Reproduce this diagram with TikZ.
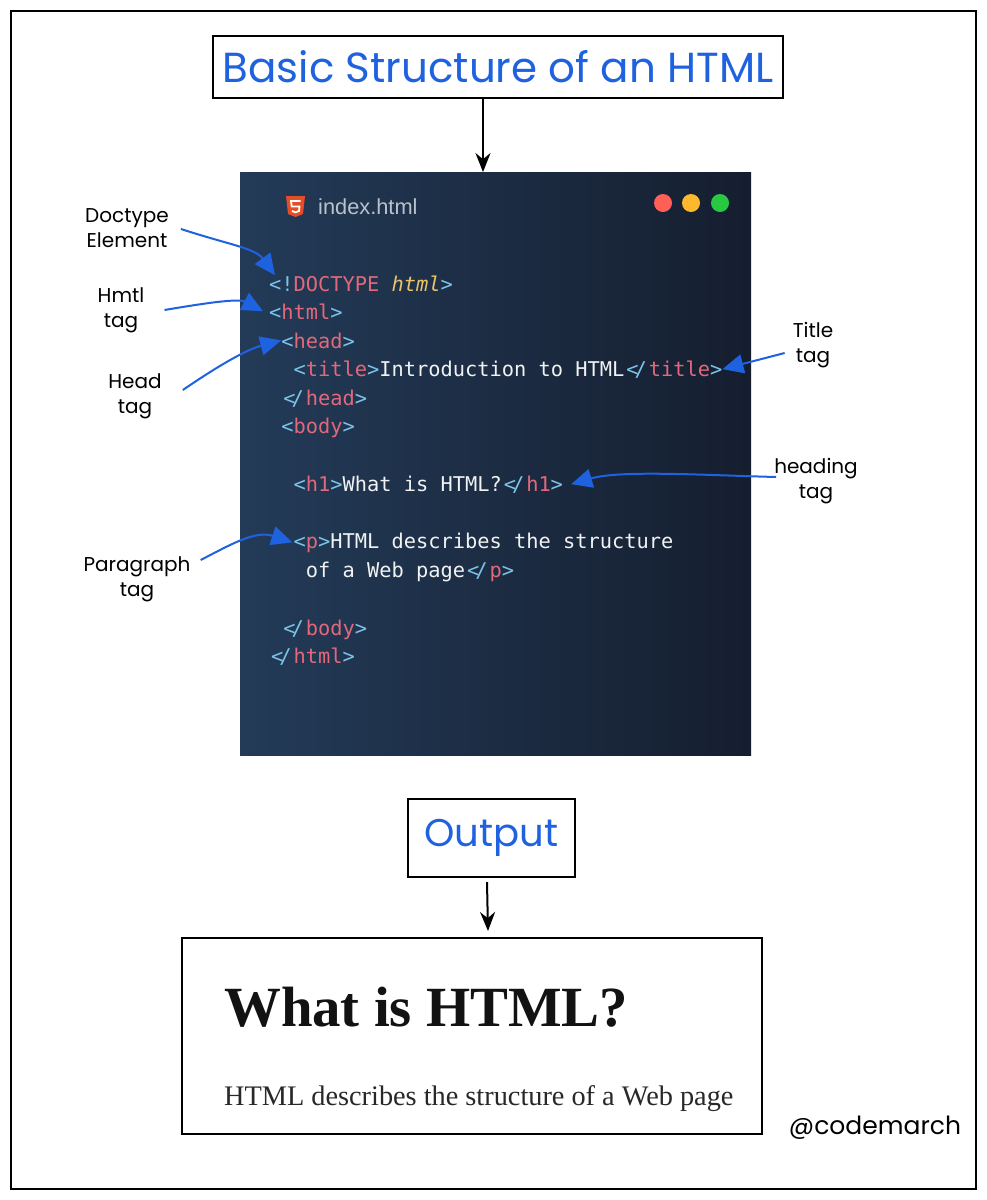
\documentclass[tikz,border=0pt]{standalone}
\usepackage{fontspec}
\usepackage{xcolor}
\usetikzlibrary{arrows.meta}
\setmainfont{Liberation Serif}
\newfontfamily\handf{Poppins}
\newfontfamily\monof{DejaVu Sans Mono}
\newfontfamily\uif{Liberation Sans}
\definecolor{inkblue}{HTML}{1F62E0}
\definecolor{brk}{HTML}{7CC4EA}
\definecolor{tagc}{HTML}{E2687C}
\definecolor{wht}{HTML}{F0F2F4}
\definecolor{ylw}{HTML}{E9C46A}
\newcommand{\hs}[1]{\fontsize{#1}{#1}\selectfont}
\newlength{\cw}\setlength{\cw}{12.22pt}
\newcommand{\ob}{\makebox[\cw][c]{\textcolor{brk}{<}}}
\newcommand{\cb}{\makebox[\cw][c]{\textcolor{brk}{>}}}
\newcommand{\cl}{\makebox[2\cw][c]{\textcolor{brk}{<\kern-.2em/}}}
\newcommand{\tg}[1]{\textcolor{tagc}{#1}}
\newcommand{\wt}[1]{\textcolor{wht}{#1}}
\tikzset{
  outline/.style={draw=black,line width=2pt,fill=white},
  codeline/.style={anchor=base west,inner sep=0pt,font=\monof\hs{20.35}},
  hand/.style={align=center,inner sep=0pt,font=\handf\fontsize{20}{25}\selectfont,text=black},
  flow/.style={-{Stealth[length=19pt,width=15pt]},line width=2pt,black},
  note/.style={-{Triangle[length=21pt,width=19pt]},line width=2pt,inkblue},
  dot/.style={circle,inner sep=0pt,minimum size=18pt}
}
\begin{document}
\begin{tikzpicture}[x=1pt,y=-1pt]
\useasboundingbox (0,0) rectangle (987,1200);
\fill[white] (0,0) rectangle (987,1200);
\node[draw=black,line width=2pt,minimum width=965pt,minimum height=1178pt,inner sep=0pt] (frame) at (493.5,600) {};
\node[outline,minimum width=570pt,minimum height=62pt,inner sep=0pt,text=inkblue,font=\handf\hs{42}] (titlebox) at (498,67) {Basic Structure of an HTML};
\node[minimum width=511pt,minimum height=583.5pt,inner sep=0pt,left color={rgb,255:red,35;green,59;blue,88},right color={rgb,255:red,21;green,30;blue,47},middle color={rgb,255:red,28;green,44;blue,67}] (panel) at (495.5,464) {};
\draw[flow] ([xshift=-15pt]titlebox.south) -- ([xshift=-12.5pt]panel.north);
% window header
\fill[fill={rgb,255:red,228;green,77;blue,38}] (286,196) -- (305,196) -- (303,214) -- (295.5,217) -- (288,214) -- cycle;
\draw[white,line width=1.8pt] (300.5,201) -- (291,201) -- (291.7,206.5) -- (299.5,206.5) -- (299,211) -- (295.5,212.3) -- (292,211);
\node[anchor=base west,inner sep=0pt,text={rgb,255:red,186;green,193;blue,204},font=\uif\hs{21.8}] (fname) at (318,214) {index.html};
\node[dot,fill={rgb,255:red,255;green,95;blue,87}] (dotr) at (663,203) {};
\node[dot,fill={rgb,255:red,254;green,184;blue,46}] (doty) at (691,203) {};
\node[dot,fill={rgb,255:red,40;green,200;blue,64}] (dotg) at (720,203) {};
% code
\node[codeline] (l1) at (269,291) {\ob\makebox[\cw][c]{\textcolor{brk}{!}}\tg{DOCTYPE} {\itshape\textcolor{ylw}{html}}\cb};
\node[codeline] (l2) at (269,319) {\ob\tg{html}\cb};
\node[codeline] (l3) at (281.2,348) {\ob\tg{head}\cb};
\node[codeline] (l4) at (293.4,376) {\ob\tg{title}\cb\wt{Introduction to HTML}\cl\tg{title}\cb};
\node[codeline] (l5) at (281.2,405) {\cl\tg{head}\cb};
\node[codeline] (l6) at (281.2,433) {\ob\tg{body}\cb};
\node[codeline] (l7) at (293.4,491) {\ob\tg{h1}\cb\wt{What is HTML?}\cl\tg{h1}\cb};
\node[codeline] (l8) at (293.4,548) {\ob\tg{p}\cb\wt{HTML describes the structure}};
\node[codeline] (l9) at (305.6,577) {\wt{of a Web page}\cl\tg{p}\cb};
\node[codeline] (l10) at (281.2,635) {\cl\tg{body}\cb};
\node[codeline] (l11) at (269,663) {\cl\tg{html}\cb};
% labels
\node[hand] (ldoc) at (127,228) {Doctype\\Element};
\node[hand] (lhtml) at (121,310) {Hmtl\\tag};
\node[hand] (lhead) at (135,396) {Head\\tag};
\node[hand] (ltitle) at (813,345) {Title\\tag};
\node[hand] (lheading) at (816,481) {heading\\tag};
\node[hand] (lpara) at (137,579) {Paragraph\\tag};
\draw[note] ([xshift=12pt,yshift=-1pt]ldoc.east) .. controls (230,245) and (255,248) .. ([xshift=6pt]l1.north west);
\draw[note] ([xshift=20pt]lhtml.east) .. controls (200,304) and (238,298) .. ([xshift=-6pt]l2.west);
\draw[note] ([xshift=21pt,yshift=6pt]lhead.east) .. controls (215,368) and (245,350) .. (l3.west);
\draw[note] ([xshift=-8pt,yshift=-8pt]ltitle.west) -- (l4.east);
\draw[note] ([xshift=2pt,yshift=4pt]lheading.west) .. controls (700,475) and (620,470) .. ([xshift=8pt]l7.east);
\draw[note] ([xshift=10pt,yshift=19pt]lpara.east) .. controls (230,545) and (255,530) .. ([xshift=-1pt]l8.west);
% output
\node[outline,minimum width=167pt,minimum height=78pt,inner sep=0pt,text=inkblue,font=\handf\hs{38.6}] (outbox) at (491.5,838) {Output};
\node[outline,minimum width=580pt,minimum height=196pt,inner sep=0pt] (resultbox) at (472,1036) {};
\draw[flow] ([xshift=-4.5pt,yshift=-4pt]outbox.south) -- ([xshift=16pt,yshift=6pt]resultbox.north);
\node[anchor=base west,inner sep=0pt,font=\bfseries\hs{56.8},text={rgb,255:red,18;green,18;blue,18}] (reshead) at (224,1026) {What is HTML?};
\node[anchor=base west,inner sep=0pt,font=\hs{28.3},text={rgb,255:red,40;green,40;blue,40}] (respara) at (224,1105) {HTML describes the structure of a Web page};
\node[hand,font=\handf\hs{25}] (credit) at (875,1128) {@codemarch};
\end{tikzpicture}
\end{document}
